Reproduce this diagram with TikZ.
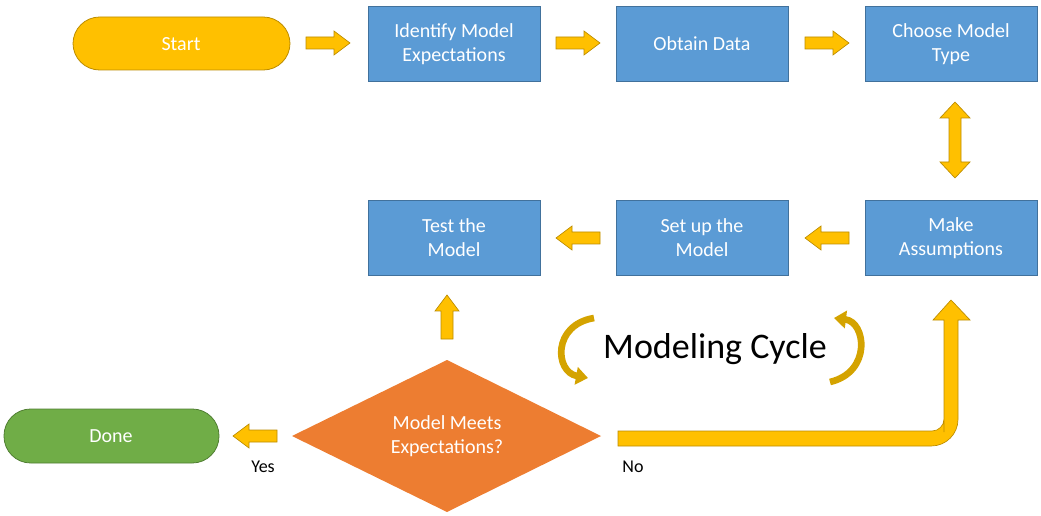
\documentclass[tikz,border=0pt]{standalone}
\usepackage{fontspec}
\setmainfont{Carlito}
\usetikzlibrary{shapes.geometric,arrows.meta}
\definecolor{bl}{HTML}{5B9BD5}\definecolor{blb}{HTML}{41719C}
\definecolor{ye}{HTML}{FFC000}\definecolor{yeb}{HTML}{BC8C00}
\definecolor{ora}{HTML}{ED7D31}\definecolor{gr}{HTML}{70AD47}\definecolor{grb}{HTML}{507E32}
\definecolor{cyc}{HTML}{D4A300}
\newcommand\myarrow[3]{\begin{scope}[shift={(#1,#2)},rotate=#3]
\filldraw[barrow] (-22,-6) -- (6,-6) -- (6,-12) -- (22,0) -- (6,12) -- (6,6) -- (-22,6) -- cycle;\end{scope}}
\begin{document}
\begin{tikzpicture}[x=0.75pt,y=-0.75pt,
 box/.style={draw=blb,fill=bl,minimum width=129pt,minimum height=56pt,align=center,text=white,font=\fontsize{15}{18}\selectfont,line width=0.6pt},
 term/.style={rounded rectangle,minimum width=162pt,minimum height=40pt,font=\fontsize{15}{18}\selectfont,text=white,line width=0.6pt},
 barrow/.style={fill=ye,draw=yeb,line width=0.5pt},
 lbl/.style={font=\fontsize{13.5}{16}\selectfont}]
\useasboundingbox (0,0) rectangle (1041,516);
\usetikzlibrary{shapes.misc}
\node[box] (idm) at (454,44) {Identify Model\\Expectations};
\node[box] (obt) at (702,44) {Obtain Data};
\node[box] (cho) at (951,44) {Choose Model\\Type};
\node[box] (tst) at (454,238) {Test the\\Model};
\node[box] (set) at (702,238) {Set up the\\Model};
\node[box] (mak) at (951,238) {Make\\Assumptions};
\filldraw[draw=yeb,fill=ye,line width=0.6pt,rounded corners=20pt] (73,17) rectangle (290,70);
\node[text=white,font=\fontsize{15}{18}\selectfont] (start) at (181,44) {Start};
\filldraw[draw=grb,fill=gr,line width=0.6pt,rounded corners=20pt] (4,409) rectangle (219,463);
\node[text=white,font=\fontsize{15}{18}\selectfont] (done) at (111,436) {Done};
\fill[ora] (292,436) -- (447,360) -- (601,436) -- (447,512) -- cycle;
\node[text=white,align=center,font=\fontsize{15}{18}\selectfont] (dec) at (447,436) {Model Meets\\Expectations?};
\myarrow{328}{43}{0}
\myarrow{578}{43}{0}
\myarrow{827}{43}{0}
\myarrow{578}{238}{180}
\myarrow{827}{238}{180}
\myarrow{255}{436}{180}
\myarrow{447}{317}{90}
\filldraw[barrow] (955,102) -- (970,118) -- (961,118) -- (961,162) -- (970,162) -- (955,178) -- (940,162) -- (949,162) -- (949,118) -- (940,118) -- cycle;
\filldraw[barrow] (618,431) [rounded corners=9pt] -- (944,431) -- (944,420) [sharp corners] -- (944,320) -- (933,320) -- (951,300) -- (970,320) -- (958,320) [rounded corners=20pt] -- (958,446) -- (900,446) [sharp corners] -- (618,446) -- cycle;
\node[lbl] (yes) at (263,467) {Yes};
\node[lbl] (no) at (633,467) {No};
\node[font=\fontsize{27}{30}\selectfont] (cyc) at (715,349) {Modeling Cycle};
\draw[cyc,line width=5pt,-{Triangle[length=9pt,width=13pt]}] (594,318) .. controls (552,325) and (555,372) .. (588,378);
\draw[cyc,line width=5pt,-{Triangle[length=9pt,width=13pt]}] (830,382) .. controls (872,372) and (866,322) .. (834,318);
\end{tikzpicture}
\end{document}
